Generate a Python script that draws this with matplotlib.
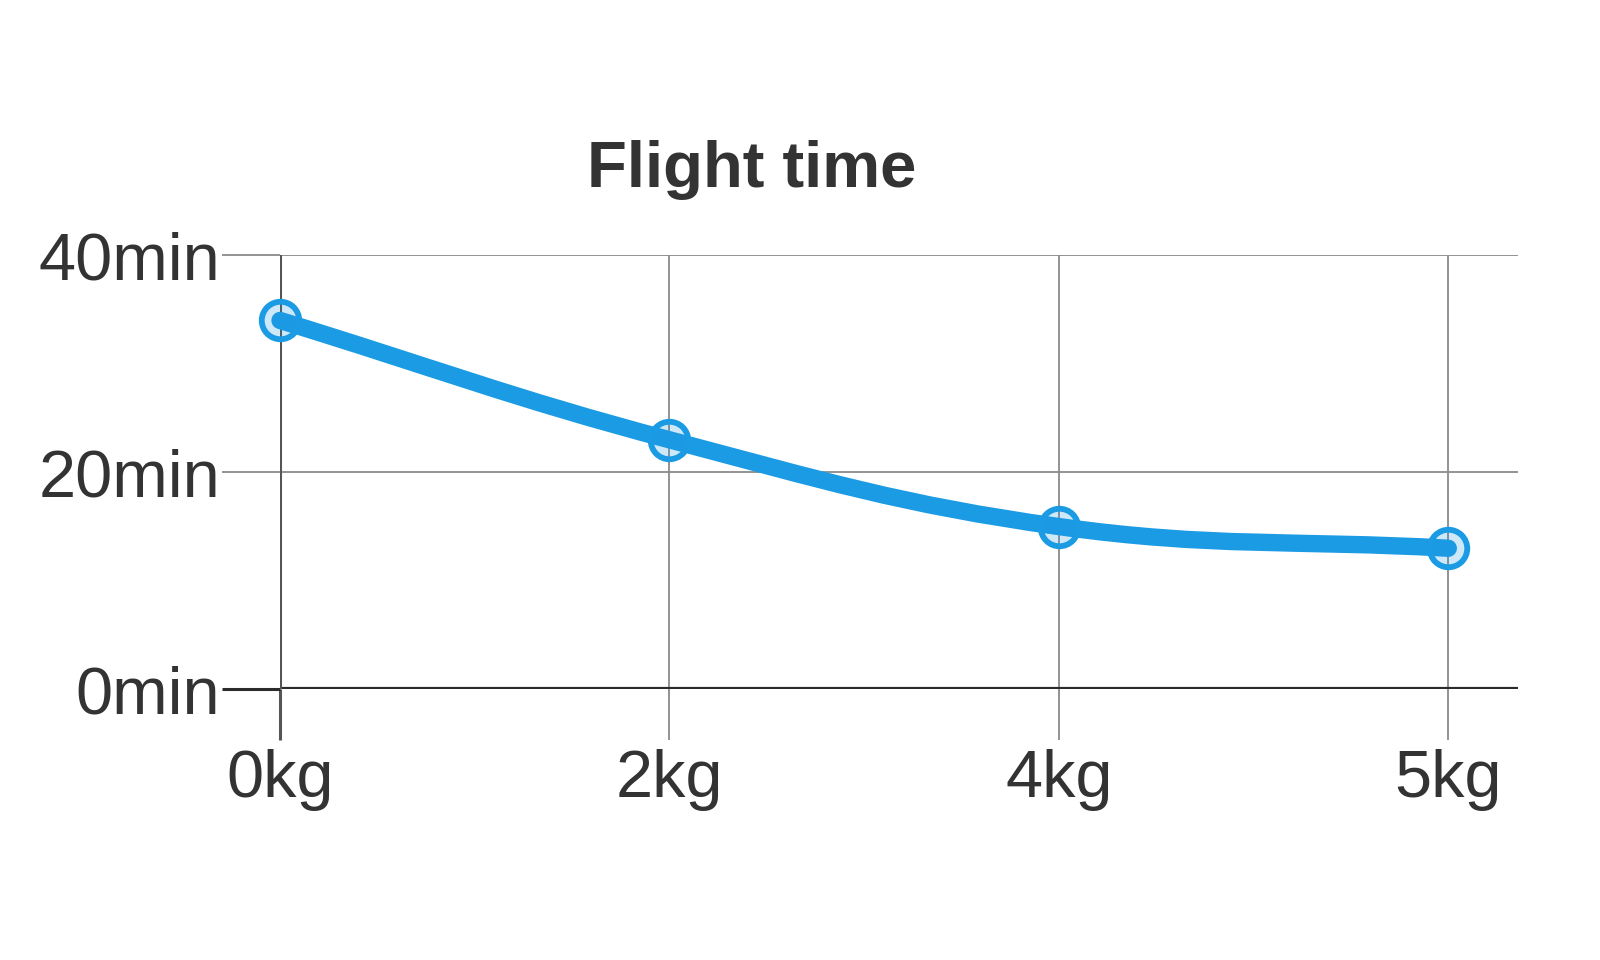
import numpy as np
import matplotlib.pyplot as plt
from matplotlib.path import Path
from matplotlib.patches import PathPatch

# data
loads = ['0kg', '2kg', '4kg', '5kg']
flight_min = [34, 23, 15, 13]
y_ticks = [0, 20, 40]
y_labels = ['0min', '20min', '40min']

blue = '#1a9be4'
text_col = '#333333'
grid_col = '#8a8a8a'

plt.rcParams['font.family'] = ['Liberation Sans', 'DejaVu Sans']

fig = plt.figure(figsize=(16, 9.6), dpi=100)
ax = fig.add_axes([0.175, 0.282, 0.774, 0.452])
x = np.arange(len(loads))
ax.set_xlim(0, 3.18)
ax.set_ylim(0, 40)

# smooth line, chart.js style bezier (tension 0.4)
pts = ax.transData.transform(np.column_stack([x, flight_min]))
n = len(pts)
tension = 0.4
cp_in, cp_out = [], []
for i in range(n):
    prev = pts[max(i - 1, 0)]
    cur = pts[i]
    nxt = pts[min(i + 1, n - 1)]
    d01 = np.hypot(*(cur - prev))
    d12 = np.hypot(*(nxt - cur))
    s01 = d01 / (d01 + d12)
    s12 = d12 / (d01 + d12)
    cp_in.append(cur - tension * s01 * (nxt - prev))
    cp_out.append(cur + tension * s12 * (nxt - prev))

verts = [pts[0]]
codes = [Path.MOVETO]
for i in range(n - 1):
    verts += [cp_out[i], cp_in[i + 1], pts[i + 1]]
    codes += [Path.CURVE4] * 3
verts = ax.transData.inverted().transform(np.array(verts))
curve = PathPatch(Path(verts, codes), facecolor='none', edgecolor=blue,
                  lw=12.5, capstyle='round', joinstyle='round', clip_on=False, zorder=4)
ax.add_patch(curve)

ax.plot(x, flight_min, 'o', ms=27, mew=4.2, mec=blue,
        mfc=(0.12, 0.6, 0.89, 0.22), clip_on=False, zorder=5)

# grid and axes
for s in ax.spines.values():
    s.set_visible(False)
ax.set_yticks(y_ticks)
ax.set_yticklabels(y_labels)
ax.set_xticks(x)
ax.set_xticklabels(loads)
ax.grid(True, color=grid_col, lw=1.3)
ax.axhline(0, color='#2b2b2b', lw=3, zorder=3)
ax.axvline(0, color='#555555', lw=2.2, zorder=3)
ax.tick_params(axis='y', length=42, width=1.3, color=grid_col, pad=1,
               labelsize=48, labelcolor=text_col)
ax.tick_params(axis='x', length=37, width=1.3, color=grid_col, pad=6,
               labelsize=48, labelcolor=text_col)
# zero ticks darker, like the axis lines
t0 = ax.yaxis.get_major_ticks()[0].tick1line
t0.set_markeredgecolor('#2b2b2b')
t0.set_markeredgewidth(2.2)
t1 = ax.xaxis.get_major_ticks()[0].tick1line
t1.set_markeredgecolor('#555555')
t1.set_markeredgewidth(2.2)

fig.text(0.47, 0.805, 'Flight time', ha='center', va='baseline',
         fontsize=47, fontweight='bold', color=text_col)

plt.savefig('out.png', dpi=100)
